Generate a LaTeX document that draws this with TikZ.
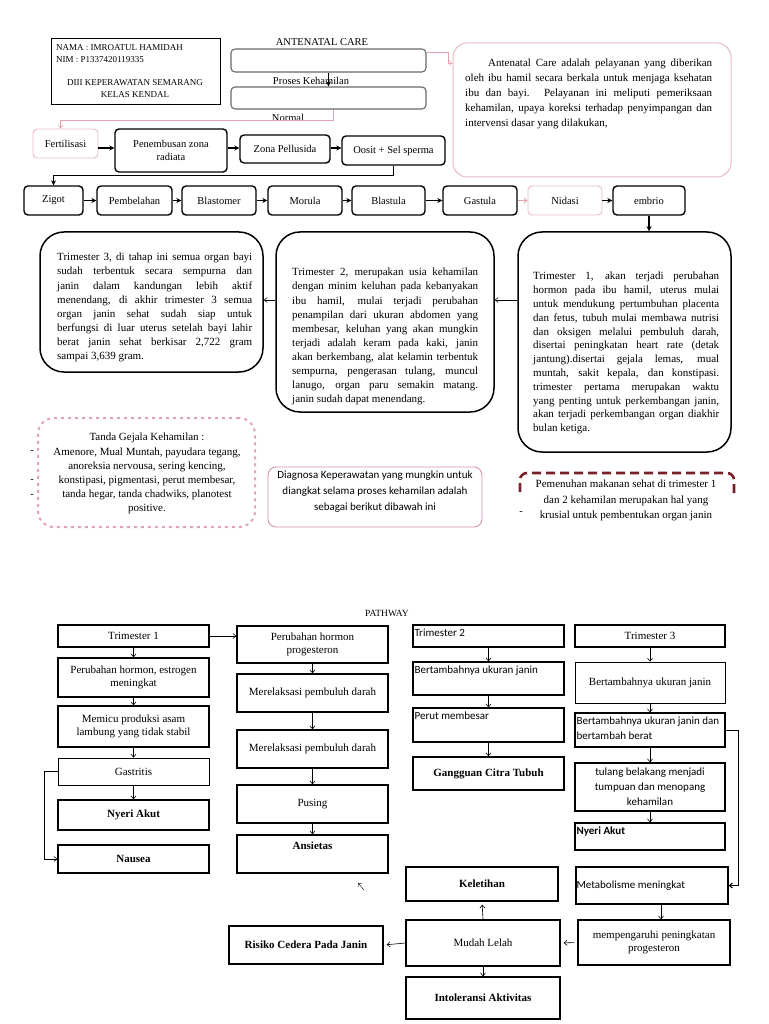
\documentclass[tikz,border=0pt]{standalone}
\usepackage{fontspec}
\setmainfont{Liberation Serif}
\newfontfamily\calib{Carlito}
\usetikzlibrary{arrows.meta,calc}
\definecolor{pinkb}{RGB}{230,188,193}
\definecolor{pinkd}{RGB}{225,165,175}
\definecolor{pinkt}{RGB}{212,150,158}
\definecolor{darkred}{RGB}{120,32,42}
\definecolor{greyb}{RGB}{105,105,105}
\newlength\tw
\newcommand\J[1]{{\spaceskip=0pt\xspaceskip=0pt\makebox[\tw][s]{#1}}}
\newcommand\bx[7][]{\node[#1,minimum width={#5pt-#3pt},minimum height={#6pt-#4pt}] (#2) at ({(#3+#5)/2},{(#4+#6)/2}) {#7};}
\tikzset{
 base/.style={font=\fontsize{10.5}{13}\selectfont, inner sep=1pt},
 nm/.style={font=\fontsize{9}{11}\selectfont, inner sep=0pt},
 rbox/.style={base, draw, line width=1.4pt, rounded corners=4pt, align=center},
 pbox/.style={base, draw=pinkb, line width=0.9pt, rounded corners=4pt, align=center},
 gbox/.style={draw=greyb, line width=1.1pt, rounded corners=4pt},
 bigbox/.style={draw, line width=1.5pt, rounded corners=24pt},
 sq/.style={font=\fontsize{11}{13.5}\selectfont, inner sep=1pt, draw, line width=1.3pt, align=center},
 sqt/.style={sq, line width=0.7pt},
 cal/.style={font=\calib\fontsize{11}{15}\selectfont},
 bld/.style={font=\bfseries\fontsize{11}{13}\selectfont},
 arr/.style={-{Stealth[length=5pt,width=5pt]}, line width=1.3pt},
 tarr/.style={-{Straight Barb[length=3pt,width=5pt]}, line width=0.6pt},
 parr/.style={tarr, draw=pinkd},
 para/.style={anchor=north west, inner sep=0pt, align=justify},
 tl/.style={cal, anchor=north west, inner sep=2pt, yshift=-2pt, align=left}
}
\begin{document}
\begin{tikzpicture}[x=1pt,y=-1pt]
\fill[white] (0,0) rectangle (768,1024);
\useasboundingbox (0,0) rectangle (768,1024);

% ---------- header ----------
\bx[draw, line width=0.8pt]{namebox}{51}{38}{220}{104}{}
\node[nm, anchor=west] (nm1) at (56,48) {NAMA : IMROATUL HAMIDAH};
\node[nm, anchor=west] (nm2) at (56,60) {NIM : P1337420119335};
\node[nm] (nm3) at (135,83) {DIII KEPERAWATAN SEMARANG};
\node[nm] (nm4) at (135,95) {KELAS KENDAL};

\node[base] (antt) at (322,42) {ANTENATAL CARE};
\bx[gbox]{g1}{231}{49}{426}{72}{}
\bx[gbox]{g2}{231}{87}{426}{109}{}
\node[base] (prl) at (311,81) {Proses Kehamilan};
\node[base] (nrl) at (288,118) {Normal};
\draw[arr, line width=1.1pt] (g1.south) -- (g2.north);

\bx[draw=pinkb, line width=1pt, rounded corners=14pt]{antbox}{453}{43}{731}{177}{}
\node[para, text width=247pt, font=\fontsize{11}{15}\selectfont] (anttxt) at (465,59) {\setlength\tw{247pt}%
\J{\hspace*{23pt}Antenatal Care adalah pelayanan yang diberikan}\\
\J{oleh ibu hamil secara berkala untuk menjaga ksehatan}\\
\J{ibu dan bayi. Pelayanan ini meliputi pemeriksaan}\\
\J{kehamilan, upaya koreksi terhadap penyimpangan dan}\\
intervensi dasar yang dilakukan,};

\coordinate (pk1) at (448,52);
\coordinate (pk2) at (448,63);
\draw[pinkd, line width=0.8pt] ($(g1.east)+(0,-8.5)$) -- (pk1) -- (pk2);
\draw[parr] (pk2) -- (antbox.west |- pk2);

% ---------- row 1 ----------
\bx[pbox]{fert}{33}{129}{98}{158}{Fertilisasi}
\bx[rbox]{pen}{115}{129}{227}{172}{Penembusan zona\\radiata}
\bx[rbox]{zona}{240}{135}{330}{163}{Zona Pellusida}
\bx[rbox]{oosit}{342}{136}{445}{165}{Oosit + Sel sperma}
\coordinate (pk3) at (333,120);
\draw[parr] (g2.south -| pk3) -- (pk3) -| ($(fert.north)+(-5,0)$);
\coordinate (r1) at (0,148);
\draw[arr] (fert.east |- r1) -- (pen.west |- r1);
\draw[arr] (pen.east |- r1) -- (zona.west |- r1);
\draw[arr] (zona.east |- r1) -- (oosit.west |- r1);

% ---------- row 2 ----------
\bx[rbox]{zigot}{24}{186}{83}{215}{Zigot}
\bx[rbox]{pemb}{97}{186}{172}{215}{Pembelahan}
\bx[rbox]{blastomer}{182}{186}{256}{215}{Blastomer}
\bx[rbox]{morula}{268}{186}{342}{215}{Morula}
\bx[rbox]{blastula}{352}{186}{425}{215}{Blastula}
\bx[rbox]{gastula}{443}{186}{517}{215}{Gastula}
\bx[pbox]{nidasi}{528}{186}{602}{215}{Nidasi}
\bx[rbox]{embrio}{613}{186}{685}{215}{embrio}
\draw[arr] (oosit.south) -- ++(0,10) -| (zigot.north);
\draw[arr] (zigot.east) -- (pemb.west);
\draw[arr] (pemb.east) -- (blastomer.west);
\draw[arr] (blastomer.east) -- (morula.west);
\draw[arr] (morula.east) -- (blastula.west);
\draw[arr] (blastula.east) -- (gastula.west);
\draw[parr, line width=0.9pt] (gastula.east) -- (nidasi.west);
\draw[arr] (nidasi.east) -- (embrio.west);

% ---------- trimester boxes ----------
\bx[bigbox]{t1}{518}{232}{731}{452}{}
\bx[bigbox]{t2}{276}{232}{494}{412}{}
\bx[bigbox]{t3}{40}{232}{263}{372}{}
\draw[arr] (embrio.south) -- (embrio.south |- t1.north);
\coordinate (ya) at (0,300);
\draw[tarr] (t1.west |- ya) -- (t2.east |- ya);
\draw[tarr] (t2.west |- ya) -- (t3.east |- ya);

\node[para, text width=195pt, font=\fontsize{11}{14.1}\selectfont] (t3t) at (57,253) {\setlength\tw{195pt}%
\J{Trimester 3, di tahap ini semua organ bayi}\\
\J{sudah terbentuk secara sempurna dan}\\
\J{janin dalam kandungan lebih aktif}\\
\J{menendang, di akhir trimester 3 semua}\\
\J{organ janin sehat sudah siap untuk}\\
\J{berfungsi di luar uterus setelah bayi lahir}\\
\J{berat janin sehat berkisar 2,722 gram}\\
sampai 3,639 gram.};

\node[para, text width=186pt, font=\fontsize{11}{14.1}\selectfont] (t2t) at (292,268) {\setlength\tw{186pt}%
\J{Trimester 2, merupakan usia kehamilan}\\
\J{dengan minim keluhan pada kebanyakan}\\
\J{ibu hamil, mulai terjadi perubahan}\\
\J{penampilan dari ukuran abdomen yang}\\
\J{membesar, keluhan yang akan mungkin}\\
\J{terjadi adalah keram pada kaki, janin}\\
\J{akan berkembang, alat kelamin terbentuk}\\
\J{sempurna, pengerasan tulang, muncul}\\
\J{lanugo, organ paru semakin matang.}\\
janin sudah dapat menendang.};

\node[para, text width=186pt, font=\fontsize{11}{13.8}\selectfont] (t1t) at (533,272) {\setlength\tw{186pt}%
\J{Trimester 1, akan terjadi perubahan}\\
\J{hormon pada ibu hamil, uterus mulai}\\
\J{untuk mendukung pertumbuhan placenta}\\
\J{dan fetus, tubuh mulai membawa nutrisi}\\
\J{dan oksigen melalui pembuluh darah,}\\
\J{disertai peningkatan heart rate (detak}\\
\J{jantung).disertai gejala lemas, mual}\\
\J{muntah, sakit kepala, dan konstipasi.}\\
\J{trimester pertama merupakan waktu}\\
\J{yang penting untuk perkembangan janin,}\\
\J{akan terjadi perkembangan organ diakhir}\\
bulan ketiga.};

% ---------- notes ----------
\bx[draw=pinkd, line width=2pt, dash pattern=on 3pt off 4pt, rounded corners=16pt]{tanda}{38}{418}{255}{527}{}
\node[anchor=north, align=center, font=\fontsize{11}{14.2}\selectfont, inner sep=0pt] (tandat) at (147,433) {Tanda Gejala Kehamilan :\\
Amenore, Mual Muntah, payudara tegang,\\
anoreksia nervousa, sering kencing,\\
konstipasi, pigmentasi, perut membesar,\\
tanda hegar, tanda chadwiks, planotest\\
positive.};
\node[base] (dm1) at (32,452) {-};
\node[base] (dm2) at (32,481) {-};
\node[base] (dm3) at (32,496) {-};

\bx[draw=pinkt, line width=0.9pt, rounded corners=8pt]{diag}{268}{467}{482}{527}{}
\node[anchor=north, align=center, font=\calib\fontsize{11}{16}\selectfont, inner sep=0pt] (diagt) at (375,471) {Diagnosa Keperawatan yang mungkin untuk\\
diangkat selama proses kehamilan adalah\\
sebagai berikut dibawah ini};

\coordinate (pm1) at (520,492);
\coordinate (pm2) at (520,473);
\coordinate (pm3) at (734,473);
\coordinate (pm4) at (734,497);
\draw[darkred, line width=2.6pt, dash pattern=on 9pt off 5pt, rounded corners=7pt] (pm1) -- (pm2) -- (pm3) -- (pm4);
\node[anchor=north, align=center, font=\fontsize{11}{15.5}\selectfont, inner sep=0pt] (pemt) at (626,480) {Pemenuhan makanan sehat di trimester 1\\
dan 2 kehamilan merupakan hal yang\\
krusial untuk pembentukan organ janin};
\node[base] (dm4) at (521,513) {-};

% ---------- pathway ----------
\node[font=\fontsize{9.5}{11}\selectfont, inner sep=0pt] (pw) at (387,613) {PATHWAY};

\bx[sq]{c1a}{58}{625}{209}{647}{Trimester 1}
\bx[sq]{c1b}{58}{658}{209}{697}{Perubahan hormon, estrogen\\meningkat}
\bx[sq]{c1c}{58}{706}{209}{747}{Memicu produksi asam\\lambung yang tidak stabil}
\bx[sqt]{c1d}{58}{758}{209}{785}{Gastritis}
\bx[sq, bld]{c1e}{58}{800}{209}{830}{Nyeri Akut}
\bx[sq, bld]{c1f}{58}{845}{209}{873}{Nausea}
\draw[tarr] (c1a.south) -- (c1b.north);
\draw[tarr] (c1b.south) -- (c1c.north);
\draw[tarr] (c1c.south) -- (c1d.north);
\draw[tarr] (c1d.south) -- (c1e.north);
\draw[tarr] (c1d.west) -- ++(-13,0) |- (c1f.west);

\bx[sq]{c2a}{237}{626}{388}{663}{Perubahan hormon\\progesteron}
\bx[sq]{c2b}{237}{674}{388}{712}{Merelaksasi pembuluh darah}
\bx[sq]{c2c}{237}{730}{388}{768}{Merelaksasi pembuluh darah}
\bx[sq]{c2d}{237}{785}{388}{823}{Pusing}
\bx[sq, label={[bld, anchor=north, inner sep=0pt, yshift=-7pt]north:Ansietas}]{c2e}{237}{835}{388}{873}{}
\draw[tarr] (c1a.east) -- (c2a.west |- c1a.east);
\draw[tarr] (c2a.south) -- (c2b.north);
\draw[tarr] (c2b.south) -- (c2c.north);
\draw[tarr] (c2c.south) -- (c2d.north);
\draw[tarr] (c2d.south) -- (c2e.north);

\bx[sq, label={[tl]north west:Trimester 2}]{c3a}{413}{625}{564}{647}{}
\bx[sq, label={[tl]north west:Bertambahnya ukuran janin}]{c3b}{413}{662}{564}{695}{}
\bx[sq, label={[tl]north west:Perut membesar}]{c3c}{413}{708}{564}{742}{}
\bx[sq, bld]{c3d}{413}{757}{564}{790}{Gangguan Citra Tubuh}
\draw[tarr] (c3a.south) -- (c3b.north);
\draw[tarr] (c3b.south) -- (c3c.north);
\draw[tarr] (c3c.south) -- (c3d.north);

\bx[sq]{c4a}{575}{625}{725}{647}{Trimester 3}
\bx[sqt]{c4b}{575}{662}{725}{703}{Bertambahnya ukuran janin}
\bx[sq, label={[tl, font=\calib\fontsize{11}{15.5}\selectfont]north west:Bertambahnya ukuran janin dan\\bertambah berat}]{c4c}{575}{713}{725}{747}{}
\bx[sq, cal, align=center]{c4d}{575}{763}{725}{811}{tulang belakang menjadi\\tumpuan dan menopang\\kehamilan}
\bx[sq, label={[tl, font=\calib\bfseries\fontsize{11}{15}\selectfont]north west:Nyeri Akut}]{c4e}{575}{823}{725}{850}{}
\bx[sq, label={[cal, anchor=west, inner sep=1pt]west:Metabolisme meningkat}]{c4f}{576}{867}{728}{904}{}
\bx[sq]{c4g}{578}{920}{730}{965}{mempengaruhi peningkatan\\progesteron}
\draw[tarr] (c4a.south) -- (c4b.north);
\draw[tarr] (c4b.south) -- (c4c.north);
\draw[tarr] (c4c.south) -- (c4d.north);
\draw[tarr] (c4d.south) -- (c4e.north);
\draw[tarr, line width=1pt] (c4c.east) -- ++(13,0) |- (c4f.east);
\coordinate (q1) at ($(c4f.south)+(9,0)$);
\draw[tarr] (q1) -- (q1 |- c4g.north);

\bx[sq]{mudah}{406}{920}{560}{966}{Mudah Lelah}
\bx[sq, bld]{kelet}{406}{867}{558}{901}{Keletihan}
\bx[sq, bld]{risiko}{229}{926}{383}{964}{Risiko Cedera Pada Janin}
\bx[sq, bld]{intol}{406}{977}{560}{1019}{Intoleransi Aktivitas}
\draw[tarr, shorten >=3pt, shorten <=3pt] (c4g.west) -- (mudah.east);
\draw[tarr, shorten >=3pt] (mudah.west) -- (risiko.east);
\draw[tarr, shorten >=3pt] (mudah.north) -- (kelet.south);
\draw[tarr] (mudah.south) -- (intol.north);
\coordinate (s1) at (364,890);
\coordinate (s2) at (358,883);
\draw[tarr, line width=0.4pt] (s1) -- (s2);
\end{tikzpicture}
\end{document}
